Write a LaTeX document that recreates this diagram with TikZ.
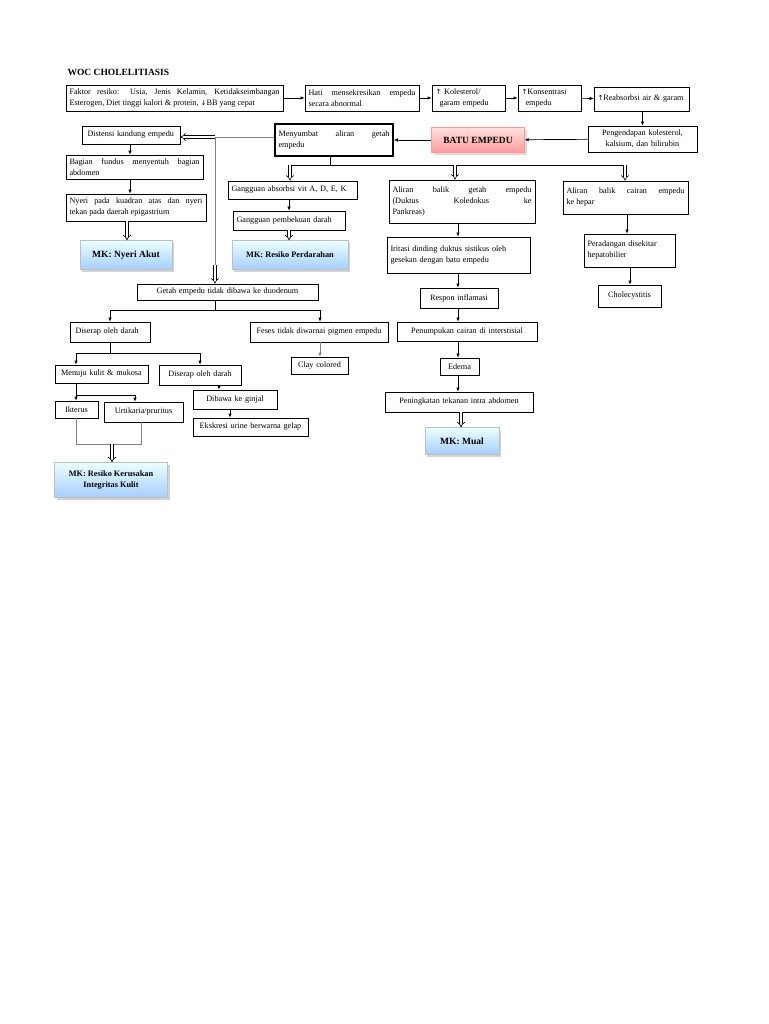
\documentclass[tikz,border=0pt]{standalone}
\usepackage{fontspec}
\setmainfont{Liberation Serif}
\newfontfamily\djf{DejaVu Sans}
\usetikzlibrary{arrows.meta,shadows,calc}
\hyphenpenalty=10000 \exhyphenpenalty=10000
\newcommand\bx[7][]{\node[box,minimum width={(#5-#3)*1pt},minimum height={(#6-#4)*1pt},text width={(#5-#3-7)*1pt},#1] (#2) at ({(#3+#5)/2},{(#4+#6)/2}) {#7};}
\begin{document}
\begin{tikzpicture}[x=1pt,y=-1pt,
 box/.style={draw,line width=0.7pt,inner sep=0pt,align=justify,font=\fontsize{8.2}{11}\selectfont},
 ar/.style={-{Latex[length=4pt,width=3.5pt]},line width=0.7pt},
 dar/.style={double,double distance=2.2pt,line width=0.6pt,-{Implies[length=5pt]}},
 mk/.style={draw=gray!50,top color=cyan!8,bottom color=cyan!45!blue!35,drop shadow={opacity=0.35},align=center,font=\fontsize{9.5}{11}\selectfont\bfseries}]
\useasboundingbox (0,0) rectangle (768,1024);
\node[anchor=west,font=\fontsize{9.5}{10}\selectfont\bfseries] (title) at (64,72) {WOC CHOLELITIASIS};
\bx{fak}{66}{85}{283}{111}{Faktor resiko: Usia, Jenis Kelamin, Ketidakseimbangan\linebreak Esterogen, Diet tinggi kalori \& protein, {\djf\scriptsize↓}BB yang cepat}
\bx{hati}{305}{85}{419}{111}{Hati mensekresikan empedu\linebreak secara abnormal}
\bx[align=left]{kol}{432}{85}{505}{111}{{\djf\scriptsize↑} Kolesterol/\\ \hspace*{4pt}garam empedu}
\bx[align=left]{kon}{518}{85}{581}{111}{{\djf\scriptsize↑}Konsentrasi\\ \hspace*{4pt}empedu}
\bx[align=left]{rea}{594}{87}{689}{111}{{\djf\scriptsize↑}Reabsorbsi air \& garam}
\bx[align=center]{pen}{588}{126}{697}{152}{Pengendapan kolesterol,\\kalsium, dan bilirubin}
\node[draw=red!40,top color=red!12,bottom color=red!40,drop shadow={opacity=0.3},minimum width=93pt,minimum height=25pt,font=\fontsize{9.5}{10}\selectfont\bfseries] (batu) at (478,140) {BATU EMPEDU};
\bx[line width=1.6pt]{men}{275}{124}{393}{156}{Menyumbat aliran getah\linebreak empedu}
\bx[align=left]{dis}{82}{126}{180}{144}{\hspace*{2pt}Distensi kandung empedu}
\bx{bag}{66}{155}{203}{179}{Bagian fundus menyentuh bagian\linebreak abdomen}
\bx{nye}{66}{194}{206}{221}{Nyeri pada kuadran atas dan nyeri\linebreak tekan pada daerah epigastrium}
\node[mk,minimum width=92pt,minimum height=29pt] (mk1) at (126,255) {MK: Nyeri Akut};
\bx[align=left]{gab}{228}{181}{357}{199}{Gangguan absorbsi vit A, D, E, K}
\bx[align=left]{gpe}{233}{211}{345}{230}{Gangguan pembekuan darah}
\node[mk,minimum width=116pt,minimum height=29pt,font=\fontsize{8.3}{10}\selectfont\bfseries] (mk2) at (290,255) {MK: Resiko Perdarahan};
\bx{alg}{389}{180}{535}{223}{Aliran balik getah empedu\linebreak (Duktus Koledokus ke\linebreak Pankreas)}
\bx[align=left]{iri}{387}{237}{530}{273}{Iritasi dinding duktus sistikus oleh\\gesekan dengan batu empedu}
\bx[align=center]{res}{420}{288}{498}{308}{Respon inflamasi}
\bx[align=center]{pnm}{397}{322}{537}{341}{Penumpukan cairan di interstisial}
\bx[align=center]{ede}{440}{358}{479}{375}{Edema}
\bx[align=center]{pnk}{385}{392}{533}{412}{Peningkatan tekanan intra abdomen}
\node[mk,minimum width=74pt,minimum height=27pt] (mk3) at (462,441) {MK: Mual};
\bx{alc}{563}{181}{688}{214}{Aliran balik cairan empedu\linebreak ke hepar}
\bx[align=left]{per}{584}{234}{675}{267}{Peradangan disekitar\\hepatobilier}
\bx[align=center]{cho}{598}{285}{661}{307}{Cholecystitis}
\bx[align=center]{get}{137}{284}{318}{300}{Getah empedu tidak dibawa ke duodenum}
\bx[align=left]{ds1}{70}{322}{150}{342}{\hspace*{2pt}Diserap oleh darah}
\bx[align=center]{fes}{250}{322}{388}{342}{Feses tidak diwarnai pigmen empedu}
\bx[align=center]{cla}{291}{357}{348}{374}{Clay colored}
\bx[align=center]{mnj}{55}{365}{148}{383}{Menuju kulit \& mukosa}
\bx[align=center]{ds2}{159}{365}{241}{385}{Diserap oleh darah}
\bx[align=center]{dib}{193}{390}{277}{409}{Dibawa ke ginjal}
\bx[align=center]{eks}{193}{418}{308}{436}{Ekskresi urine berwarna gelap}
\bx[align=center]{ikt}{55}{401}{98}{418}{Ikterus}
\bx[align=center]{urt}{104}{402}{183}{422}{Urtikaria/pruritus}
\node[mk,minimum width=113pt,minimum height=35pt,font=\fontsize{8.3}{11}\selectfont\bfseries] (mk4) at (111,480) {MK: Resiko Kerusakan\\Integritas Kulit};
% top chain
\draw[ar] (fak) -- (hati); \draw[ar] (hati) -- (kol); \draw[ar] (kol) -- (kon); \draw[ar] (kon) -- (rea);
\draw[ar] (rea.south -| pen) -- (pen);
\draw[ar] (pen) -- (batu); \draw[ar] (batu) -- (men);
% to distensi and getah
\coordinate (j1) at (215,137);
\draw[line width=0.6pt,gray] (men.west|-j1) -- (j1);
\draw[dar] (j1) -- (dis.east|-j1);
\draw[line width=0.6pt,gray] (j1) -- (215,265);
\draw[dar] (215,265) -- (get.north-|215,0);
\draw[ar] (dis.south-|130,0) -- (bag.north-|130,0);
\draw[ar] (bag.south-|130,0) -- (nye.north-|130,0);
\draw[dar] (nye.south-|127,0) -- (mk1.north-|127,0);
% menyumbat branches
\draw[line width=0.8pt] (men.south-|330,0) -- (330,165);
\draw[line width=0.8pt] (290,165) -- (625,165);
\draw[dar] (290,165) -- (gab.north-|290,0);
\draw[dar] (455,165) -- (alg.north-|455,0);
\draw[dar] (625,165) -- (alc.north-|625,0);
\draw[ar] (gab.south-|289,0) -- (gpe.north-|289,0);
\draw[dar] (gpe.south-|289,0) -- (mk2.north-|289,0);
\draw[ar] (alg.south-|458,0) -- (iri.north-|458,0);
\draw[ar] (iri.south-|458,0) -- (res.north-|458,0);
\draw[ar] (res.south-|458,0) -- (pnm.north-|458,0);
\draw[ar] (pnm.south-|458,0) -- (ede.north-|458,0);
\draw[ar] (ede.south-|458,0) -- (pnk.north-|458,0);
\draw[dar] (pnk.south-|461,0) -- (mk3.north-|461,0);
\draw[ar] (alc.south-|627,0) -- (per.north-|627,0);
\draw[ar] (per.south-|630,0) -- (cho.north-|630,0);
% getah tree
\draw[line width=0.6pt] (get.south-|215,0) -- (215,310);
\draw[ar] (110,310) -- (320,310) -- (fes.north-|320,0);
\draw[ar] (110,310) -- (ds1.north-|110,0);
\draw[ar,gray] (fes.south-|320,0) -- (cla.north-|320,0);
\draw[line width=0.6pt] (ds1.south-|110,0) -- (110,353);
\draw[ar] (110,353) -- (200,353) -- (ds2.north-|200,0);
\draw[ar] (110,353) -- (76,353) -- (mnj.north-|76,0);
\draw[ar] (ds2.south-|219,0) -- (dib.north-|219,0);
\draw[ar] (dib.south-|230,0) -- (eks.north-|230,0);
\draw[line width=0.6pt] (mnj.south-|76,0) -- (76,395);
\draw[ar] (76,395) -- (ikt.north-|76,0);
\draw[ar] (76,395) -- (135,395) -- (urt.north-|135,0);
\draw[line width=0.5pt,gray] (ikt.south-|76,0) -- (76,444) -- (141,444) -- (urt.south-|141,0);
\draw[dar] (112,444) -- (mk4.north-|112,0);
\end{tikzpicture}
\end{document}
